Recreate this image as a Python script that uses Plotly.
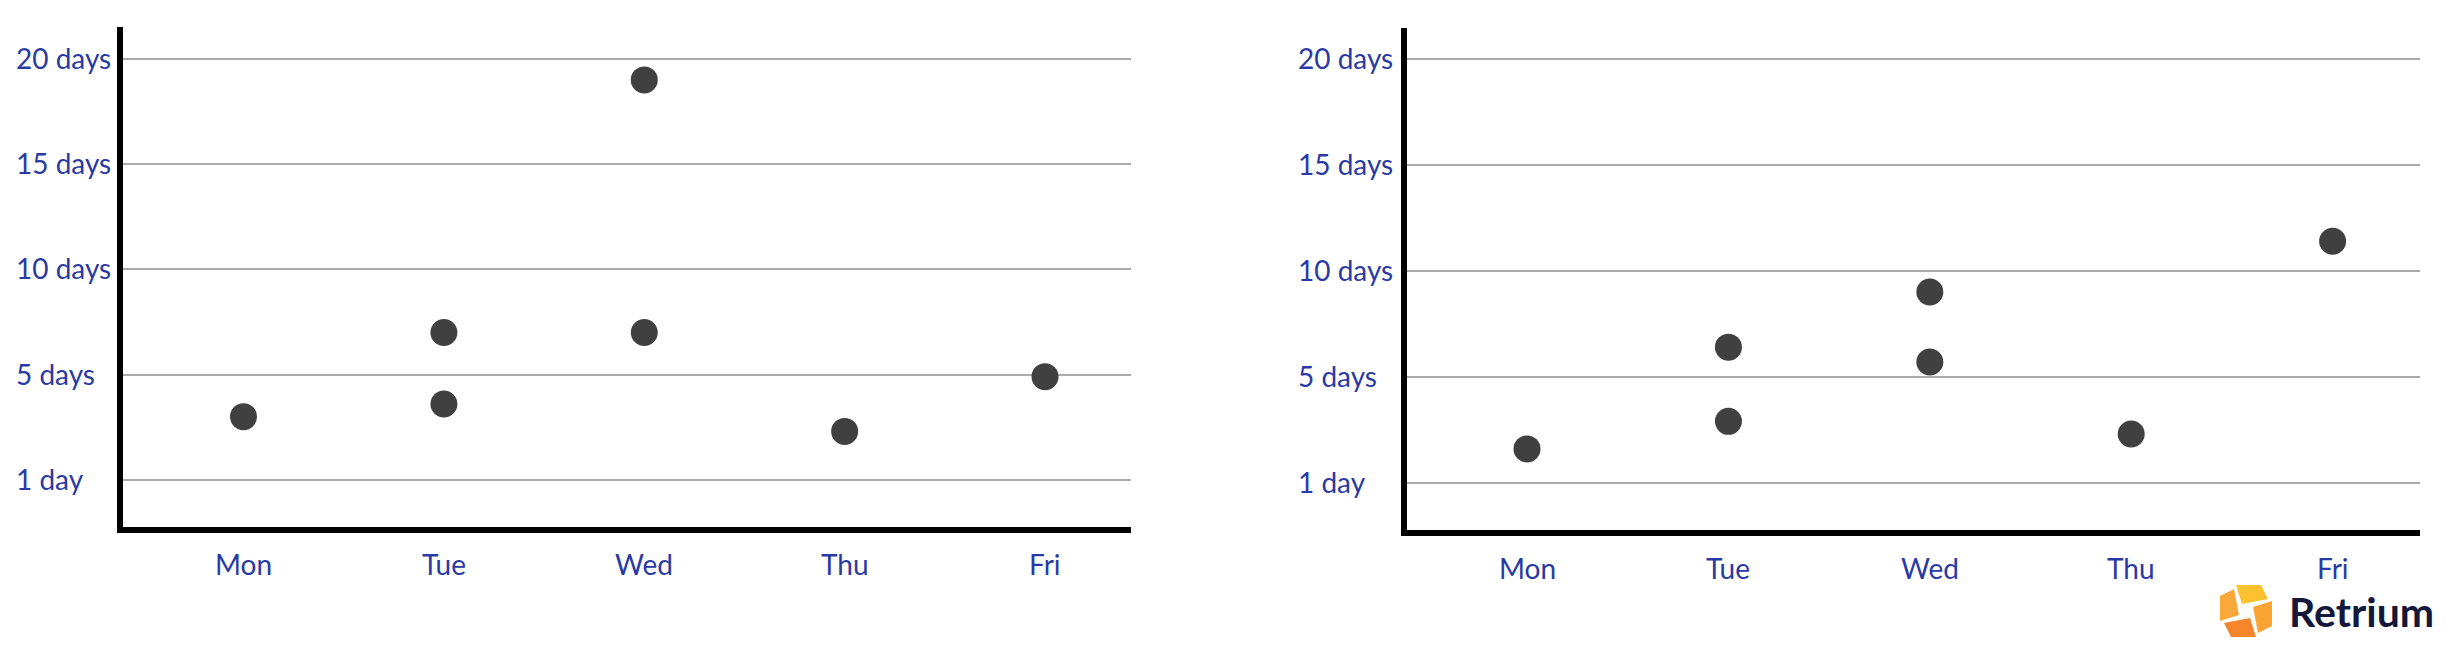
import plotly.graph_objects as go

# ---- data ----
days = ["Mon", "Tue", "Wed", "Thu", "Fri"]

before_days = ["Mon", "Tue", "Tue", "Wed", "Wed", "Thu", "Fri"]
before_values = [3.0, 7.0, 3.6, 19.0, 7.0, 2.3, 4.9]

after_days = ["Mon", "Tue", "Tue", "Wed", "Wed", "Thu", "Fri"]
after_values = [1.6, 6.4, 2.9, 9.0, 5.7, 2.3, 11.4]

# the drawn scale: tick positions and their labels
y_tick_vals = [0, 5, 10, 15, 20]
y_tick_text = ["1 day", "5 days", "10 days", "15 days", "20 days"]

# ---- styling ----
W, H = 2450, 664
TEXT_BLUE = "#2a3aa5"
DOT = "#404040"
GRID = "#ababab"
FONT = "Lato"
FS = 28

fig = go.Figure()

fig.add_trace(go.Scatter(
    x=before_days, y=before_values, mode="markers", xaxis="x", yaxis="y",
    marker=dict(size=27, color=DOT, line=dict(width=0)), showlegend=False,
))
fig.add_trace(go.Scatter(
    x=after_days, y=after_values, mode="markers", xaxis="x2", yaxis="y2",
    marker=dict(size=27, color=DOT, line=dict(width=0)), showlegend=False,
))

def xaxis_cfg(domain, rng, anchor):
    return dict(
        domain=domain, anchor=anchor, type="category",
        categoryorder="array", categoryarray=days,
        range=rng, showgrid=False, zeroline=False,
        showline=True, linecolor="black", linewidth=6,
        showticklabels=False, ticks="", fixedrange=True,
    )

def yaxis_cfg(domain, rng, anchor):
    return dict(
        domain=domain, anchor=anchor, range=rng,
        tickmode="array", tickvals=y_tick_vals, ticktext=y_tick_text,
        showticklabels=False, ticks="",
        showgrid=True, gridcolor=GRID, gridwidth=2, zeroline=False,
        showline=True, linecolor="black", linewidth=6, fixedrange=True,
    )

fig.update_layout(
    width=W, height=H,
    margin=dict(l=0, r=0, t=0, b=0),
    paper_bgcolor="white", plot_bgcolor="white",
    font=dict(family=FONT, color=TEXT_BLUE, size=FS),
    xaxis=xaxis_cfg([0.05033, 0.46163], [-0.600, 4.429], "y"),
    yaxis=yaxis_cfg([0.20633, 0.95889], [-2.243, 21.50], "x"),
    xaxis2=xaxis_cfg([0.57412, 0.98784], [-0.598, 4.435], "y2"),
    yaxis2=yaxis_cfg([0.20226, 0.95783], [-2.213, 21.46], "x2"),
    hovermode=False,
)

annotations = []
# y tick labels (left-aligned, as drawn)
for xr, yr, x0 in (("paper", "y", 14 / W), ("paper", "y2", 1296 / W)):
    for v, t in zip(y_tick_vals, y_tick_text):
        annotations.append(dict(
            x=x0, y=v, xref=xr, yref=yr, text=t, showarrow=False, yshift=1,
            xanchor="left", yanchor="middle", font=dict(size=FS, color=TEXT_BLUE, family=FONT),
        ))
# x tick labels
for xr, ypos in (("x", 1 - 564 / H), ("x2", 1 - 567.5 / H)):
    for d in days:
        annotations.append(dict(
            x=d, y=ypos, xref=xr, yref="paper", text=d, showarrow=False,
            xanchor="center", yanchor="middle", font=dict(size=FS, color=TEXT_BLUE, family=FONT),
        ))
# Retrium wordmark
annotations.append(dict(
    x=2287 / W, y=1 - 611 / H, xref="paper", yref="paper", text="<b>Retrium</b>",
    showarrow=False, xanchor="left", yanchor="middle",
    font=dict(size=41, color="#14183a", family=FONT),
))
fig.update_layout(annotations=annotations)

# Retrium pinwheel icon (decorative logo)
cx, cy = 2246, 611
blade = [(-4, -7), (-10, -26), (15, -26), (22, -12)]
blade_colors = ["#fcc12e", "#f9a433", "#f5862b", "#f8a93a"]

def rot(p, k):
    x, y = p
    for _ in range(k):
        x, y = -y, x
    return x, y

shapes = []
for k, col in enumerate(blade_colors):
    pts = [rot(p, k) for p in blade]
    path = "M " + " L ".join(f"{(cx + px) / W:.6f},{1 - (cy + py) / H:.6f}" for px, py in pts) + " Z"
    shapes.append(dict(type="path", xref="paper", yref="paper", path=path,
                       fillcolor=col, line=dict(width=0)))
fig.update_layout(shapes=shapes)

fig.write_html(
    "out.html",
    config={"displayModeBar": False, "staticPlot": True},
    post_script="document.body.style.margin='0';document.documentElement.style.overflow='hidden';",
)
